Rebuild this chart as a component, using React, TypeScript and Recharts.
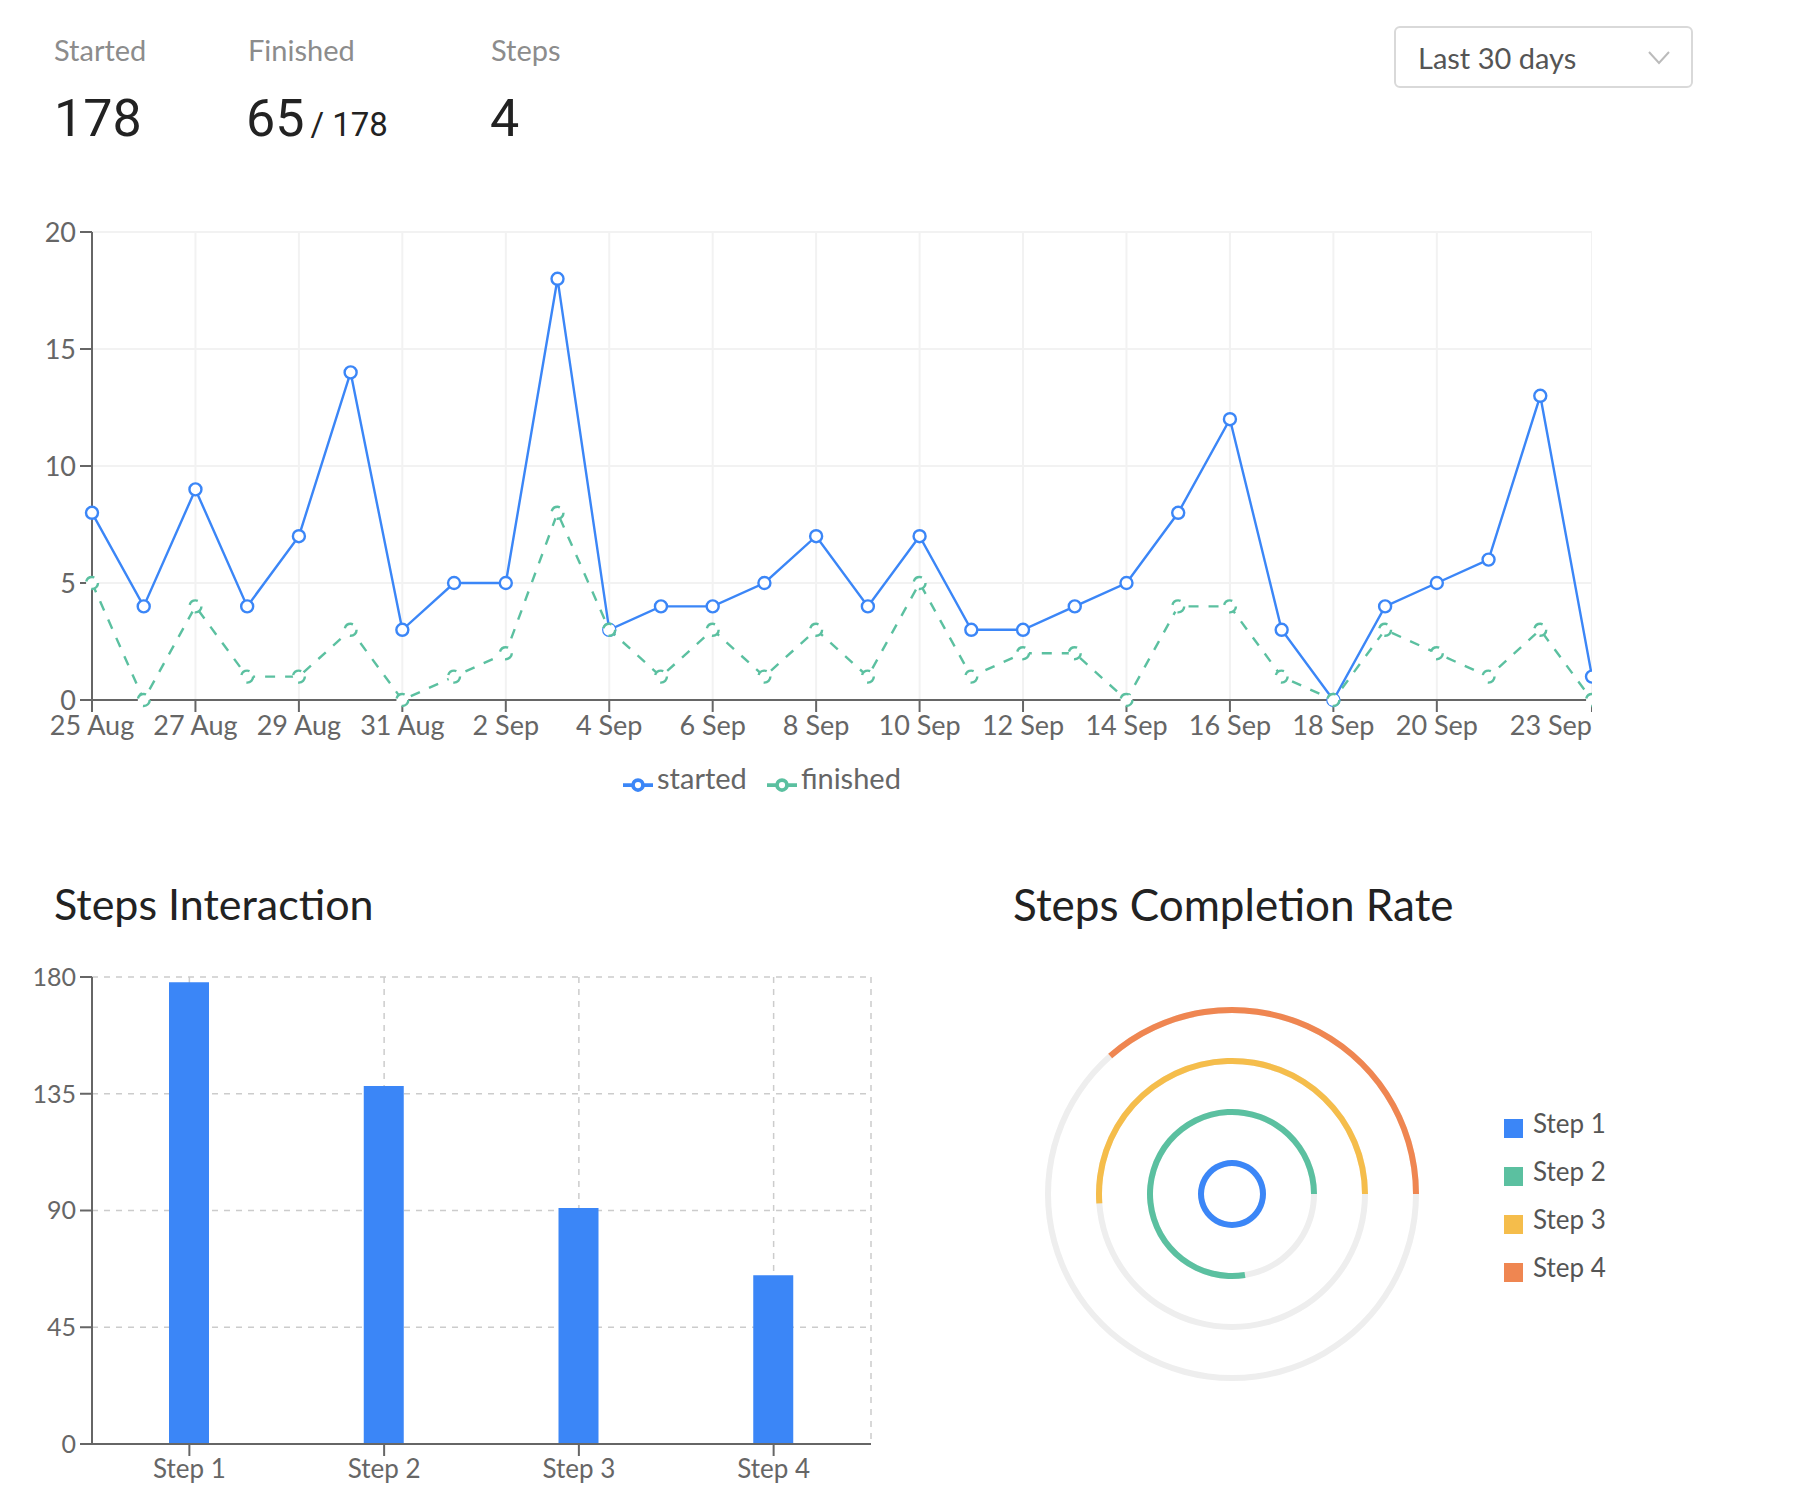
import React from 'react';
import {
  LineChart,
  Line,
  XAxis,
  YAxis,
  CartesianGrid,
  Legend,
  BarChart,
  Bar,
  RadialBarChart,
  RadialBar,
  PolarAngleAxis,
  Cell,
} from 'recharts';

const days = [
  '25 Aug', '26 Aug', '27 Aug', '28 Aug', '29 Aug', '30 Aug', '31 Aug',
  '1 Sep', '2 Sep', '3 Sep', '4 Sep', '5 Sep', '6 Sep', '7 Sep', '8 Sep',
  '9 Sep', '10 Sep', '11 Sep', '12 Sep', '13 Sep', '14 Sep', '15 Sep',
  '16 Sep', '17 Sep', '18 Sep', '19 Sep', '20 Sep', '21 Sep', '22 Sep', '23 Sep',
];
const dayTicks = [
  '25 Aug', '27 Aug', '29 Aug', '31 Aug', '2 Sep', '4 Sep', '6 Sep', '8 Sep',
  '10 Sep', '12 Sep', '14 Sep', '16 Sep', '18 Sep', '20 Sep', '23 Sep',
];
const started = [8, 4, 9, 4, 7, 14, 3, 5, 5, 18, 3, 4, 4, 5, 7, 4, 7, 3, 3, 4, 5, 8, 12, 3, 0, 4, 5, 6, 13, 1];
const finished = [5, 0, 4, 1, 1, 3, 0, 1, 2, 8, 3, 1, 3, 1, 3, 1, 5, 1, 2, 2, 0, 4, 4, 1, 0, 3, 2, 1, 3, 0];
const lineTicks = [0, 5, 10, 15, 20];
const seriesOrder = ['started', 'finished'];

const stepNames = ['Step 1', 'Step 2', 'Step 3', 'Step 4'];
const stepCounts = [178, 138, 91, 65];
const stepColors = ['#3b86f7', '#5bc0a0', '#f5bd4b', '#ef8651'];
const barTicks = [0, 45, 90, 135, 180];

const lineData = days.map((day, i) => ({ day, started: started[i], finished: finished[i] }));
const barData = stepNames.map((name, i) => ({ name, value: stepCounts[i] }));
const radialData = stepNames.map((name, i) => ({ name, value: stepCounts[i], fill: stepColors[i] }));

const tickStyle = { fontSize: 27, fill: '#666' };

export default function App() {
  return (
    <div
      style={{
        position: 'absolute',
        left: 0,
        top: 0,
        width: 1798,
        height: 1512,
        background: '#fff',
        fontFamily: 'Lato, sans-serif',
        overflow: 'hidden',
      }}
    >
      {/* tick labels are measured in a span on body, so give body the same font */}
      <style>{'body { font-family: Lato, sans-serif; }'}</style>

      {/* header stats */}
      <div style={{ position: 'absolute', left: 54, top: 35, fontSize: 29, lineHeight: 1, color: '#8c8c8c' }}>Started</div>
      <div style={{ position: 'absolute', left: 248, top: 35, fontSize: 29, lineHeight: 1, color: '#8c8c8c' }}>Finished</div>
      <div style={{ position: 'absolute', left: 491, top: 35, fontSize: 29, lineHeight: 1, color: '#8c8c8c' }}>Steps</div>

      <div style={{ position: 'absolute', left: 54, top: 93, fontSize: 52, lineHeight: 1, color: '#222', fontFamily: 'Roboto' }}>178</div>
      <div style={{ position: 'absolute', left: 246, top: 93, fontSize: 52, lineHeight: 1, color: '#222', fontFamily: 'Roboto' }}>
        65<span style={{ fontSize: 33, marginLeft: 6 }}>/ 178</span>
      </div>
      <div style={{ position: 'absolute', left: 490, top: 93, fontSize: 52, lineHeight: 1, color: '#222', fontFamily: 'Roboto' }}>4</div>

      {/* period select */}
      <div
        style={{
          position: 'absolute',
          left: 1394,
          top: 26,
          width: 295,
          height: 58,
          border: '2px solid #d9d9d9',
          borderRadius: 6,
          display: 'flex',
          alignItems: 'center',
          boxSizing: 'content-box',
        }}
      >
        <span style={{ marginLeft: 22, fontSize: 29, color: '#555' }}>Last 30 days</span>
        <svg width={22} height={14} style={{ position: 'absolute', left: 252, top: 23 }}>
          <polyline points="1,1 11,12 21,1" fill="none" stroke="#bbb" strokeWidth={2} />
        </svg>
      </div>

      {/* daily line chart */}
      <div style={{ position: 'absolute', left: 0, top: 200 }}>
        <LineChart width={1592} height={600} data={lineData} margin={{ top: 32, right: 0, left: 32, bottom: 40 }}>
          <CartesianGrid stroke="#f2f2f2" strokeWidth={2} />
          <XAxis
            dataKey="day"
            ticks={dayTicks}
            interval="preserveEnd"
            height={60}
            tickSize={12}
            tickMargin={4}
            tick={tickStyle}
            stroke="#666"
            strokeWidth={2}
          />
          <YAxis
            domain={[0, 20]}
            ticks={lineTicks}
            width={60}
            tickSize={12}
            tickMargin={4}
            tick={tickStyle}
            stroke="#666"
            strokeWidth={2}
          />
          <Legend
            layout="horizontal"
            align="center"
            verticalAlign="middle"
            iconSize={30}
            itemSorter={(item) => seriesOrder.indexOf(String(item.value))}
            wrapperStyle={{ top: 560, left: -8 }}
            formatter={(value) => (
              <span style={{ color: '#666', fontSize: 29, paddingRight: 10 }}>{value}</span>
            )}
          />
          <Line
            dataKey="started"
            name="started"
            stroke="#3b86f7"
            strokeWidth={2.4}
            dot={{ r: 6, strokeWidth: 2.4, fill: '#fff' }}
            isAnimationActive={false}
          />
          <Line
            dataKey="finished"
            name="finished"
            stroke="#5bc0a0"
            strokeWidth={2.4}
            strokeDasharray="10 10"
            dot={{ r: 6, strokeWidth: 2.4, fill: '#fff' }}
            isAnimationActive={false}
          />
        </LineChart>
      </div>

      {/* steps interaction */}
      <div style={{ position: 'absolute', left: 54, top: 882, fontSize: 43, lineHeight: 1, color: '#222' }}>Steps Interaction</div>
      <div style={{ position: 'absolute', left: 0, top: 930 }}>
        <BarChart width={900} height={574} data={barData} margin={{ top: 47, right: 29, left: 32, bottom: 0 }}>
          <CartesianGrid strokeDasharray="6 6" stroke="#cccccc" strokeWidth={1.5} />
          <XAxis
            dataKey="name"
            height={60}
            tickSize={12}
            tickMargin={4}
            tick={{ fontSize: 26, fill: '#666' }}
            stroke="#666"
            strokeWidth={2}
          />
          <YAxis
            domain={[0, 180]}
            ticks={barTicks}
            width={60}
            tickSize={12}
            tickMargin={4}
            tick={{ fontSize: 25, fill: '#666' }}
            stroke="#666"
            strokeWidth={2}
          />
          <Bar dataKey="value" fill="#3b86f7" barSize={40} isAnimationActive={false} />
        </BarChart>
      </div>

      {/* steps completion rate */}
      <div style={{ position: 'absolute', left: 1013, top: 882, fontSize: 44, lineHeight: 1, color: '#222' }}>Steps Completion Rate</div>
      <div style={{ position: 'absolute', left: 1000, top: 950 }}>
        <RadialBarChart
          width={700}
          height={500}
          cx={232}
          cy={244}
          innerRadius={5}
          outerRadius={209}
          barSize={6}
          startAngle={0}
          endAngle={360}
          data={radialData}
          margin={{ top: 0, right: 0, bottom: 0, left: 0 }}
        >
          <PolarAngleAxis type="number" domain={[0, stepCounts[0]]} tick={false} axisLine={false} />
          <RadialBar dataKey="value" background={{ fill: '#eeeeee' }} isAnimationActive={false}>
            {radialData.map((entry) => (
              <Cell key={entry.name} fill={entry.fill} />
            ))}
          </RadialBar>
          <Legend
            layout="vertical"
            align="center"
            verticalAlign="middle"
            iconType="square"
            iconSize={19}
            wrapperStyle={{ left: 504, top: 149 }}
            formatter={(value) => (
              <span style={{ color: '#555', fontSize: 26, lineHeight: '48px', paddingLeft: 6 }}>{value}</span>
            )}
          />
        </RadialBarChart>
      </div>
    </div>
  );
}
